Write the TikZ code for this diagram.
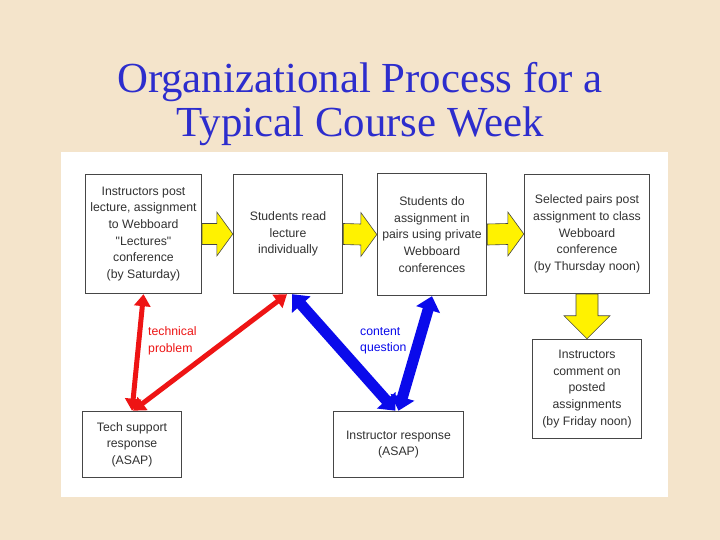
\documentclass[tikz,border=0pt]{standalone}
\usepackage{fontspec}
\setmainfont{Liberation Serif}
\newfontfamily\boxfont{Liberation Sans}
\usetikzlibrary{arrows.meta,calc}

\definecolor{paper}{RGB}{244,228,203}
\definecolor{titleblue}{RGB}{45,45,205}
\definecolor{boxline}{RGB}{70,70,70}
\definecolor{boxtext}{RGB}{50,50,50}
\definecolor{techred}{RGB}{238,20,20}
\definecolor{askblue}{RGB}{10,10,235}

% yellow block arrows between two boxes
\newcommand{\blockright}[2]{
        \draw[yblock] ($(#1.east)+(0,-10.5)$) -- ($(#2.west)+(-16,-10.5)$) -- ($(#2.west)+(-16,-22)$)
                -- (#2.west) -- ($(#2.west)+(-16,22)$) -- ($(#2.west)+(-16,10.5)$) -- ($(#1.east)+(0,10.5)$) -- cycle;
}
\newcommand{\blockdown}[2]{
        \draw[yblock] ($(#1.south)+(-11,0)$) -- ($(#2.north)+(-11,-23)$) -- ($(#2.north)+(-23,-23)$)
                -- (#2.north) -- ($(#2.north)+(23,-23)$) -- ($(#2.north)+(11,-23)$) -- ($(#1.south)+(11,0)$) -- cycle;
}

\begin{document}
\begin{tikzpicture}[x=1bp, y=-1bp,
        box/.style={draw=boxline, fill=white, line width=0.8bp, align=center, inner sep=2bp,
                text=boxtext, font=\boxfont\fontsize{12.3}{16.7}\selectfont},
        yblock/.style={fill=yellow, draw=boxline, line width=0.6bp},
        redarrow/.style={draw=techred, line width=5bp,
                {Triangle[length=12bp,width=16bp]}-{Triangle[length=12bp,width=16bp]}},
        bluearrow/.style={draw=askblue, line width=11bp,
                {Triangle[length=14bp,width=24bp]}-{Triangle[length=14bp,width=24bp]}},
        note/.style={align=left, anchor=west, inner sep=0pt, font=\boxfont\fontsize{12.3}{16.5}\selectfont}]

        \useasboundingbox (0, 0) rectangle (720, 540);
        \fill[paper] (0, 0) rectangle (720, 540);
        \fill[white] (61, 152) rectangle (668, 497);

        \node[text=titleblue, align=center, inner sep=0pt, font=\fontsize{43}{44.5}\selectfont] (title) at (360, 104)
                {Organizational Process for a\\Typical Course Week};

        \node[box, minimum width=117, minimum height=120] (post) at (143.5, 234)
                {Instructors post\\lecture, assignment\\to Webboard\\"Lectures"\\conference\\(by Saturday)};
        \node[box, minimum width=110, minimum height=120] (read) at (288, 234)
                {Students read\\lecture\\individually};
        \node[box, minimum width=110, minimum height=123] (do) at (432, 234.5)
                {Students do\\assignment in\\pairs using private\\Webboard\\conferences};
        \node[box, minimum width=126, minimum height=120] (sel) at (587, 234)
                {Selected pairs post\\assignment to class\\Webboard\\conference\\(by Thursday noon)};
        \node[box, minimum width=110, minimum height=100] (cmt) at (587, 389)
                {Instructors\\comment on\\posted\\assignments\\(by Friday noon)};
        \node[box, minimum width=131, minimum height=67] (resp) at (398.5, 444.5)
                {Instructor response\\(ASAP)};
        \node[box, minimum width=100, minimum height=67] (tech) at (132, 444.5)
                {Tech support\\response\\(ASAP)};

        \node[note, text=techred] (techlabel) at (148, 341) {technical\\problem};
        \node[note, text=askblue] (asklabel) at (360, 341) {content\\question};

        \blockright{post}{read}
        \blockright{read}{do}
        \blockright{do}{sel}
        \blockdown{sel}{cmt}

        \draw[redarrow] (post.south) -- (tech.north);
        \draw[redarrow] ([xshift=1bp]tech.north) -- ([xshift=-1bp]read.south);
        \draw[bluearrow] ([xshift=4bp]read.south) -- ([xshift=-3bp]resp.north);
        \draw[bluearrow] (resp.north) -- (do.south);
\end{tikzpicture}
\end{document}
